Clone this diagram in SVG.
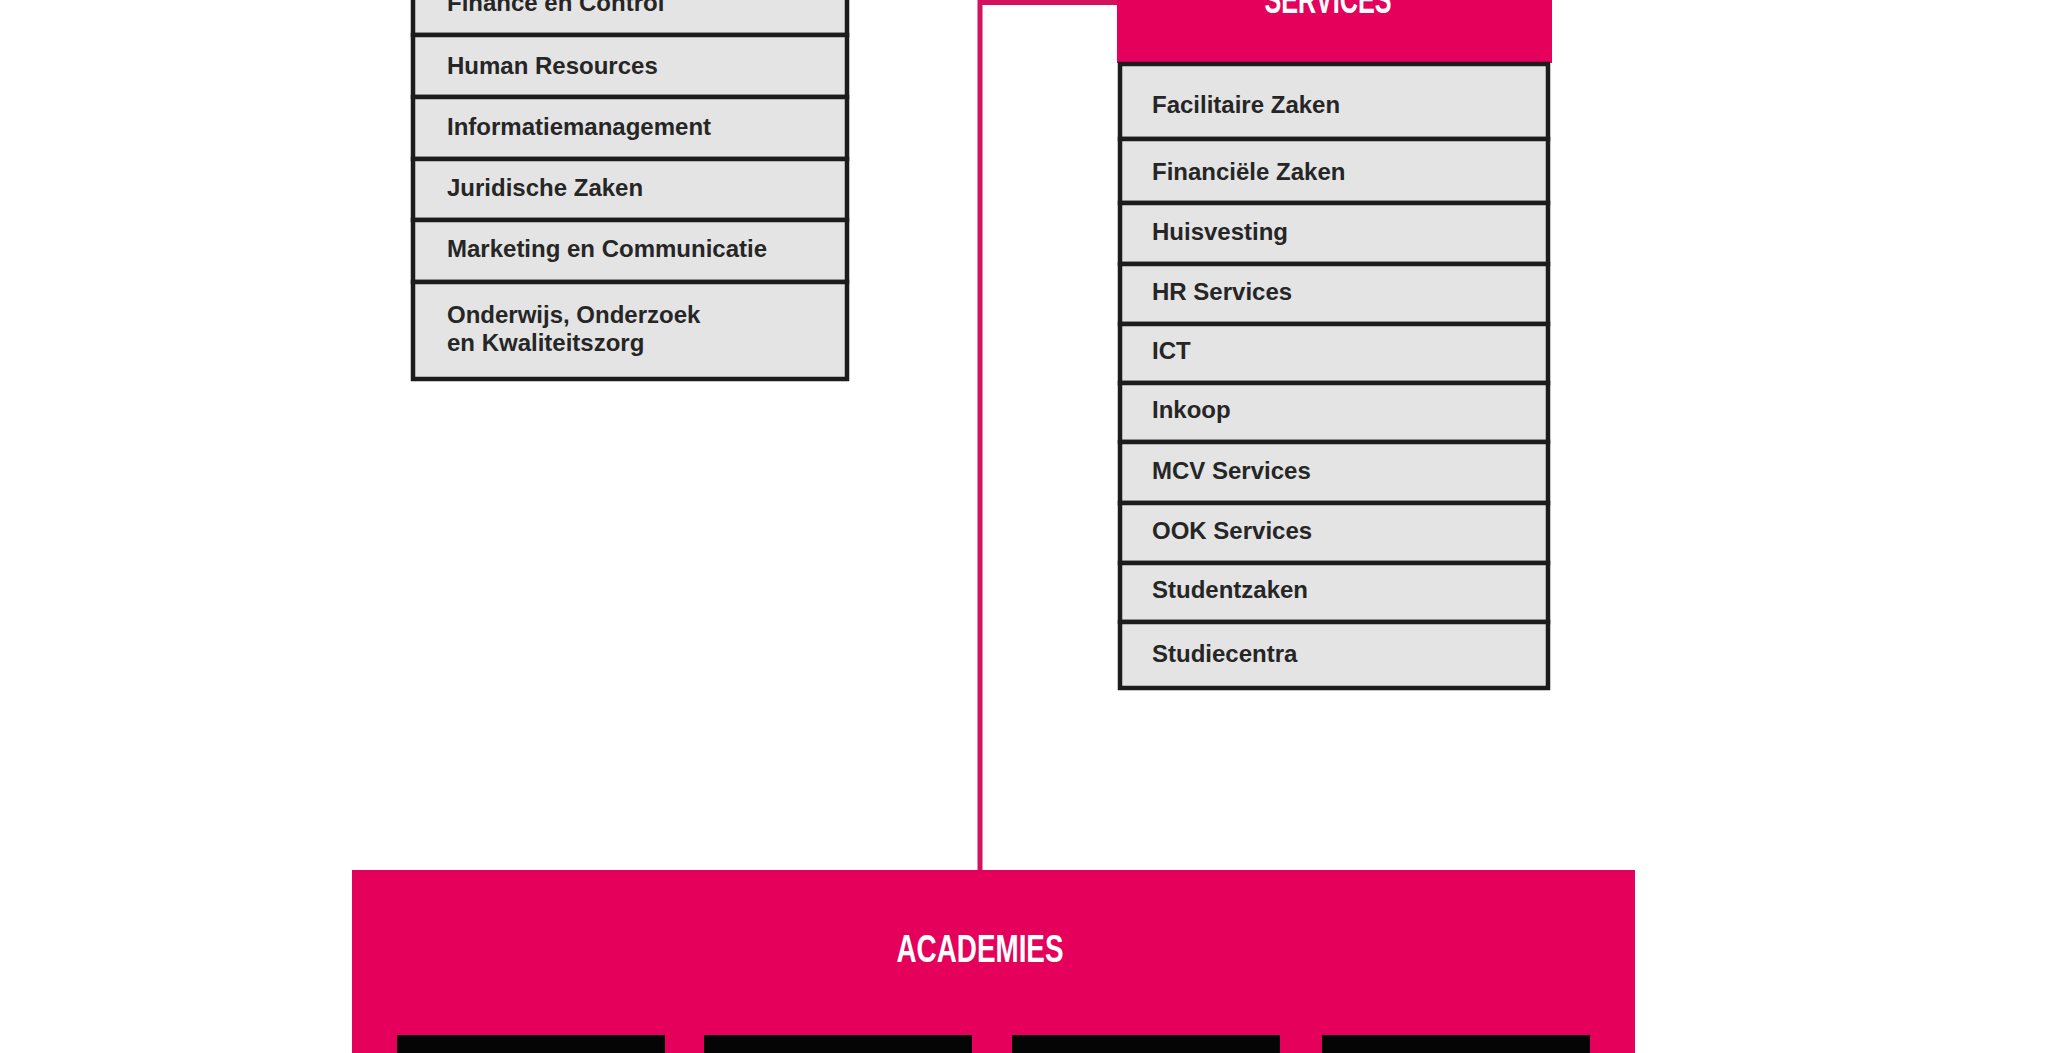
<svg xmlns="http://www.w3.org/2000/svg" width="2048" height="1053" viewBox="0 0 2048 1053">
<style>
  .item { fill: #e4e4e4; stroke: #1c1c1c; stroke-width: 4.5; }
  .lbl { font-family: "Liberation Sans", Arial, sans-serif; font-weight: bold; font-size: 24px; fill: #262626; }
  .pink { fill: #e5005b; }
  .head { font-family: "Liberation Sans", Arial, sans-serif; font-weight: bold; font-size: 38px; fill: #ffffff; text-anchor: middle; }
  .conn { fill: none; stroke: #d3135f; stroke-width: 5; }
  .acad { fill: #050505; }
</style>
<rect x="0" y="0" width="2048" height="1053" fill="#ffffff"/>

<g id="connectors">
  <path class="conn" d="M980 870 V2.5 H1118"/>
</g>

<g id="staf">
  <rect class="item" x="413" y="-30" width="434" height="65"/>
  <text class="lbl" x="447" y="11">Finance en Control</text>
  <rect class="item" x="413" y="35" width="434" height="62"/>
  <text class="lbl" x="447" y="74">Human Resources</text>
  <rect class="item" x="413" y="97" width="434" height="62"/>
  <text class="lbl" x="447" y="135">Informatiemanagement</text>
  <rect class="item" x="413" y="159" width="434" height="61"/>
  <text class="lbl" x="447" y="196">Juridische Zaken</text>
  <rect class="item" x="413" y="220" width="434" height="62"/>
  <text class="lbl" x="447" y="257">Marketing en Communicatie</text>
  <rect class="item" x="413" y="282" width="434" height="97"/>
  <text class="lbl" x="447" y="323">Onderwijs, Onderzoek</text>
  <text class="lbl" x="447" y="351">en Kwaliteitszorg</text>
</g>

<g id="services">
  <rect class="pink" x="1117" y="-10" width="435" height="73"/>
  <text class="head" x="1328" y="13" textLength="127" lengthAdjust="spacingAndGlyphs">SERVICES</text>
  <rect class="item" x="1120" y="64" width="428" height="75"/>
  <text class="lbl" x="1152" y="113">Facilitaire Zaken</text>
  <rect class="item" x="1120" y="139" width="428" height="64"/>
  <text class="lbl" x="1152" y="180">Financiële Zaken</text>
  <rect class="item" x="1120" y="203" width="428" height="61"/>
  <text class="lbl" x="1152" y="240">Huisvesting</text>
  <rect class="item" x="1120" y="264" width="428" height="60"/>
  <text class="lbl" x="1152" y="300">HR Services</text>
  <rect class="item" x="1120" y="324" width="428" height="59"/>
  <text class="lbl" x="1152" y="359">ICT</text>
  <rect class="item" x="1120" y="383" width="428" height="59"/>
  <text class="lbl" x="1152" y="418">Inkoop</text>
  <rect class="item" x="1120" y="442" width="428" height="61"/>
  <text class="lbl" x="1152" y="479">MCV Services</text>
  <rect class="item" x="1120" y="503" width="428" height="60"/>
  <text class="lbl" x="1152" y="539">OOK Services</text>
  <rect class="item" x="1120" y="563" width="428" height="59"/>
  <text class="lbl" x="1152" y="598">Studentzaken</text>
  <rect class="item" x="1120" y="622" width="428" height="66"/>
  <text class="lbl" x="1152" y="662">Studiecentra</text>
</g>

<g id="academies">
  <rect class="pink" x="352" y="870" width="1283" height="190"/>
  <text class="head" x="980" y="962" textLength="167" lengthAdjust="spacingAndGlyphs">ACADEMIES</text>
  <rect class="acad" x="397" y="1035" width="268" height="25"/>
  <rect class="acad" x="704" y="1035" width="268" height="25"/>
  <rect class="acad" x="1012" y="1035" width="268" height="25"/>
  <rect class="acad" x="1322" y="1035" width="268" height="25"/>
</g>
</svg>
